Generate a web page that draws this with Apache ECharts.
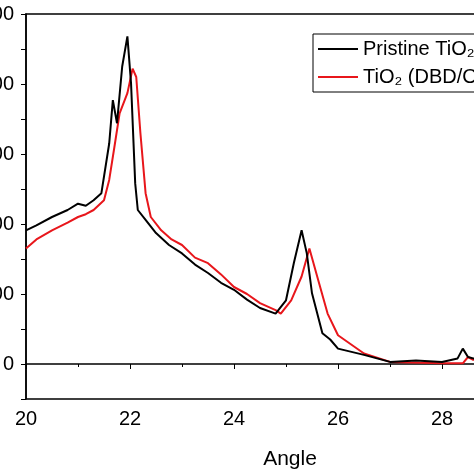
<!DOCTYPE html>
<html><head><meta charset="utf-8">
<script src="https://cdn.jsdelivr.net/npm/echarts@6/dist/echarts.min.js"></script>
<style>html,body{margin:0;padding:0;background:#fff}#c{width:474px;height:474px}</style>
</head><body><div id="c"></div>
<script>
const seriesNames = ['Pristine TiO\u2082', 'TiO\u2082 (DBD/O\u2082)'];
const pristineX = [20.0,20.2,20.5,20.8,21.0,21.15,21.3,21.45,21.6,21.67,21.75,21.85,21.95,22.02,22.1,22.15,22.3,22.5,22.75,23.0,23.25,23.5,23.75,24.0,24.25,24.5,24.8,25.0,25.15,25.3,25.4,25.5,25.7,25.85,26.0,26.5,27.0,27.5,28.0,28.3,28.4,28.5,28.6,29.0];
const pristineY = [191,198,210,220,229,226,234,244,315,377,344,425,468,401,258,220,206,187,170,158,142,130,116,106,92,80,72,91,144,191,158,101,44,35,22,13,3,5,3,8,22,10,8,6];
const treatedX = [20.0,20.2,20.5,20.8,21.0,21.15,21.3,21.5,21.6,21.7,21.8,21.95,22.05,22.12,22.2,22.3,22.4,22.6,22.8,23.0,23.25,23.5,23.75,24.0,24.25,24.5,24.8,24.9,25.1,25.3,25.45,25.6,25.8,26.0,26.5,27.0,28.0,28.4,28.5,28.6,29.0];
const treatedY = [165,178,191,202,210,214,220,234,263,310,358,387,422,410,330,244,210,191,178,170,152,144,128,110,100,87,77,72,91,125,165,125,72,41,15,3,1,1,10,6,4];
const xTicks = [20,22,24,26,28];

const chart = echarts.init(document.getElementById('c'));
const zip = (xs, ys) => xs.map((x, i) => [x, ys[i]]);
chart.setOption({
  animation:false,
  grid:{left:26,top:14,right:-20,bottom:75,outerBoundsMode:'none',containLabel:false,show:true,borderColor:'#000',borderWidth:1.5},
  legend:{
    orient:'vertical', left:313, top:34, itemWidth:40, itemHeight:2, itemGap:8, icon:'rect',
    borderColor:'#000', borderWidth:1, padding:[5,10,5,5],
    textStyle:{fontFamily:'Arial, Liberation Sans', fontSize:20, color:'#000'},
    data:seriesNames
  },
  xAxis:{
    type:'value', min:20, max:29, interval:2,
    name:'Angle', nameLocation:'middle', nameGap:50,
    nameTextStyle:{fontFamily:'Arial, Liberation Sans', fontSize:21, color:'#000', padding:[0,0,0,60]},
    axisLine:{lineStyle:{color:'#000', width:1.5}},
    axisTick:{lineStyle:{color:'#000'}, length:5},
    minorTick:{show:true, splitNumber:2, length:3, lineStyle:{color:'#000'}},
    splitLine:{show:false},
    axisLabel:{fontFamily:'Arial, Liberation Sans', fontSize:20, color:'#000', margin:10,
      formatter:v=>xTicks.includes(v)?String(v):''}
  },
  yAxis:{
    type:'value', min:-50, max:500, interval:50,
    axisLine:{show:true, lineStyle:{color:'#000', width:1.5}},
    axisTick:{lineStyle:{color:'#000'}, length:5, interval:0},
    splitLine:{show:false},
    axisLabel:{fontFamily:'Arial, Liberation Sans', fontSize:20, color:'#000', margin:12,
      formatter:v=>(v>=0 && v%100===0)?String(v):''}
  },
  series:[
    {name:seriesNames[0], type:'line', symbol:'none', data:zip(pristineX,pristineY), lineStyle:{color:'#000', width:2}, itemStyle:{color:'#000'}, z:3},
    {name:seriesNames[1], type:'line', symbol:'none', data:zip(treatedX,treatedY), lineStyle:{color:'#e8161b', width:2}, itemStyle:{color:'#e8161b'}, z:2}
  ]
});
</script></body></html>
